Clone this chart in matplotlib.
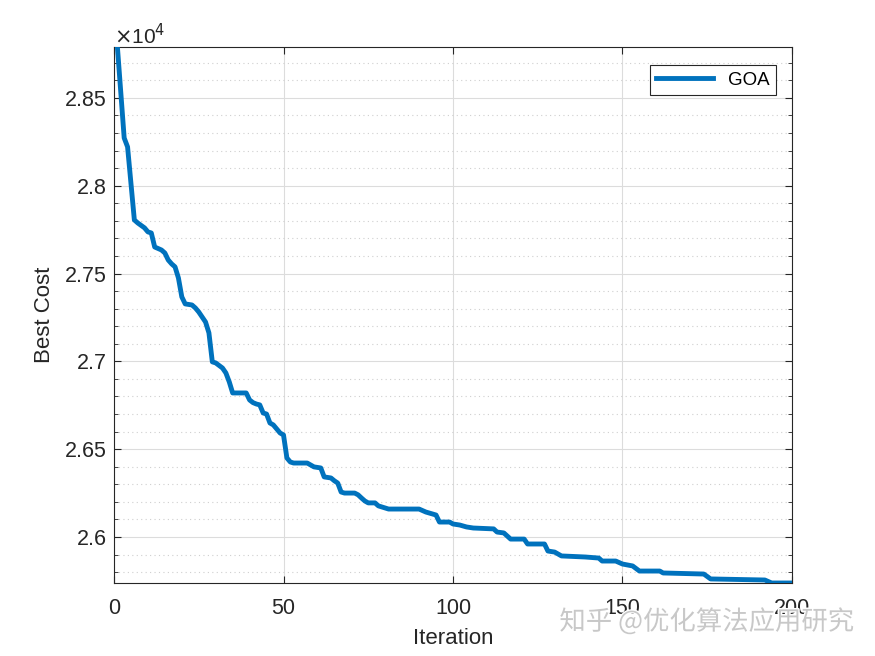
import matplotlib
matplotlib.use('Agg')
import matplotlib.pyplot as plt
from matplotlib.ticker import MultipleLocator, FuncFormatter
import matplotlib.patheffects as pe

# convergence curve breakpoints
iters = [1, 3, 4, 6, 7, 9, 10, 11, 12, 14, 15, 16, 17, 18, 19, 20, 21, 23, 24, 25,
         27, 28, 29, 30, 32, 33, 34, 35, 39, 40, 41, 42, 43, 44, 45, 46, 47, 49, 50, 51,
         52, 53, 57, 58, 59, 61, 62, 64, 65, 66, 67, 68, 71, 72, 73, 74, 75, 77, 78, 79,
         81, 90, 92, 95, 96, 99, 100, 102, 104, 106, 112, 113, 115, 117, 121, 122, 127, 128, 130, 132,
         139, 143, 144, 148, 150, 153, 155, 161, 162, 174, 176, 192, 194, 200]
best_cost = [28790, 28272, 28221, 27805, 27788, 27760, 27737, 27731, 27651, 27634, 27617, 27577, 27555, 27538, 27475, 27367, 27327, 27321, 27304, 27281,
             27224, 27162, 26997, 26991, 26962, 26934, 26883, 26820, 26820, 26780, 26765, 26757, 26752, 26706, 26700, 26649, 26638, 26592, 26581, 26450,
             26427, 26421, 26421, 26410, 26399, 26393, 26342, 26336, 26320, 26307, 26256, 26250, 26250, 26240, 26222, 26205, 26194, 26194, 26177, 26171,
             26159, 26159, 26142, 26125, 26085, 26085, 26074, 26068, 26057, 26051, 26046, 26028, 26023, 25988, 25988, 25960, 25960, 25920, 25914, 25892,
             25886, 25880, 25863, 25863, 25846, 25835, 25806, 25806, 25795, 25789, 25761, 25755, 25738, 25738]

plt.rcParams['font.family'] = ['Liberation Sans', 'DejaVu Sans']

fig = plt.figure(figsize=(8.75, 6.56), dpi=100)
ax = fig.add_axes([0.1303, 0.1113, 0.7748, 0.8171])

ax.plot(iters, best_cost, color='#0072BD', linewidth=3.5, label='GOA', zorder=3)

ax.set_xlim(0, 200)
ax.set_ylim(min(best_cost), max(best_cost))
ax.xaxis.set_major_locator(MultipleLocator(50))
ax.yaxis.set_major_locator(MultipleLocator(500))
ax.yaxis.set_minor_locator(MultipleLocator(100))
ax.yaxis.set_major_formatter(FuncFormatter(lambda v, p: f'{v / 1e4:g}'))

ax.grid(True, which='major', color='#dcdcdc', linewidth=0.8)
ax.grid(True, which='minor', axis='y', color='#cfcfcf', linewidth=0.8, linestyle=(0, (1, 3)))
ax.set_axisbelow(True)

ax.tick_params(which='both', direction='in', top=True, right=True, colors='#262626',
               labelsize=15.5, labelcolor='#262626')
ax.tick_params(which='major', length=5)
ax.tick_params(which='minor', length=3)
ax.tick_params(axis='x', pad=11)
ax.tick_params(axis='y', pad=5)
for s in ax.spines.values():
    s.set_color('#262626')
    s.set_linewidth(0.8)

ax.set_xlabel('Iteration', fontsize=16, color='#262626', labelpad=6)
ax.set_ylabel('Best Cost', fontsize=16, color='#262626', labelpad=7)
ax.text(0, 0.998, r'$\times$10$^{4}$', transform=ax.transAxes, fontsize=15,
        color='#262626', ha='left', va='bottom')

leg = ax.legend(loc='upper right', fontsize=13.5, fancybox=False, framealpha=1,
                edgecolor='#262626', handlelength=3.0, borderpad=0.35,
                borderaxespad=0, bbox_to_anchor=(0.976, 0.966))
leg.get_frame().set_linewidth(0.8)

fig.text(0.976, 0.052, '知乎 @优化算法应用研究', fontsize=19, color='#c8c8c8',
         ha='right', va='center', family=['Noto Sans CJK SC', 'DejaVu Sans'],
         path_effects=[pe.withStroke(linewidth=2, foreground='white')], zorder=10)

fig.savefig('out.png', dpi=100, facecolor='white')
